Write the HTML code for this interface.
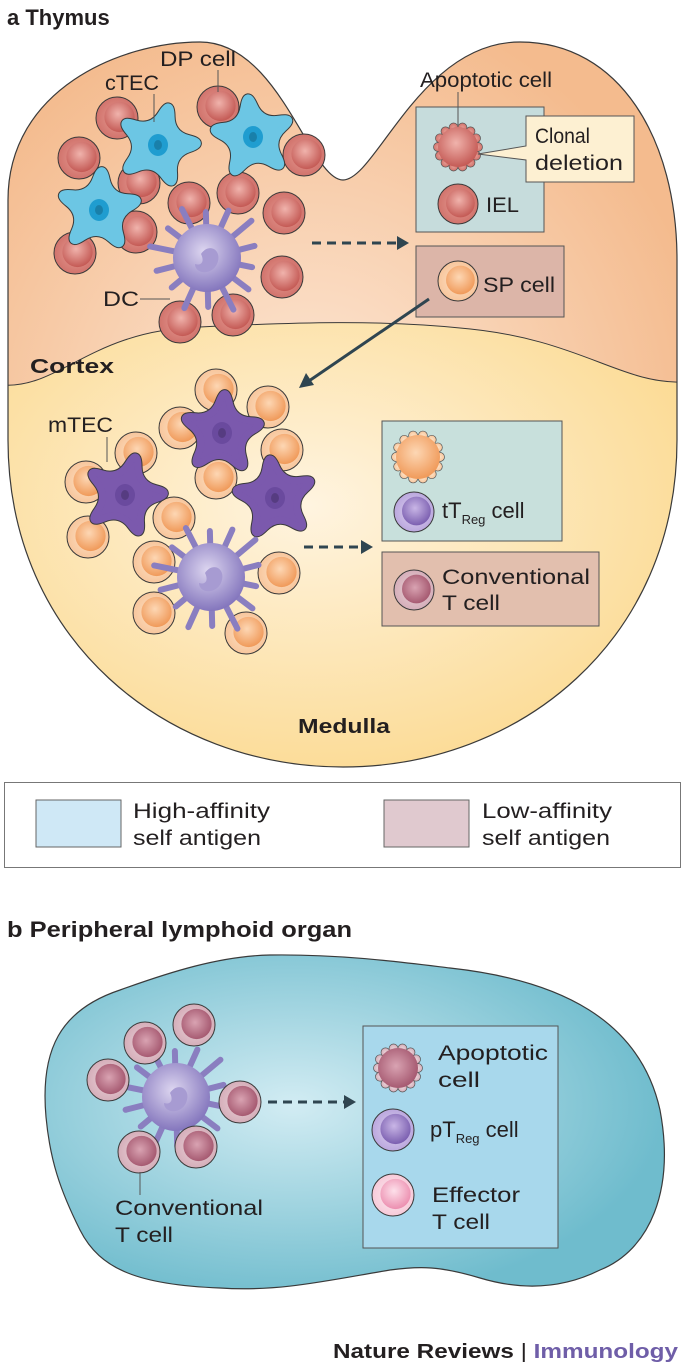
<!DOCTYPE html>
<html><head><meta charset="utf-8"><style>
html,body{margin:0;padding:0;background:#fff;}
svg{display:block;}
text{font-family:"Liberation Sans",sans-serif;fill:#231f20;}
</style></head><body>
<svg id="s" width="685" height="1370" viewBox="0 0 685 1370" xmlns="http://www.w3.org/2000/svg">
<defs>
<radialGradient id="gCortex" cx="0.45" cy="0.55" r="0.6"><stop offset="0" stop-color="#fde9d8"/><stop offset="1" stop-color="#f4bb8e"/></radialGradient>
<radialGradient id="gMed" cx="0.45" cy="0.4" r="0.65"><stop offset="0" stop-color="#fff4e0"/><stop offset="1" stop-color="#fbd98f"/></radialGradient>
<radialGradient id="gOrg" cx="0.4" cy="0.45" r="0.6"><stop offset="0" stop-color="#d2ecf3"/><stop offset="1" stop-color="#6fbccd"/></radialGradient>
<radialGradient id="gRed" cx="0.45" cy="0.4" r="0.6"><stop offset="0" stop-color="#f0b3ac"/><stop offset="1" stop-color="#c45a55"/></radialGradient>
<radialGradient id="gRedO" cx="0.5" cy="0.5" r="0.55"><stop offset="0" stop-color="#e59a92"/><stop offset="1" stop-color="#cf6f68"/></radialGradient>
<radialGradient id="gOr" cx="0.45" cy="0.4" r="0.6"><stop offset="0" stop-color="#fdd7b4"/><stop offset="1" stop-color="#f09a5a"/></radialGradient>
<radialGradient id="gOrO" cx="0.5" cy="0.5" r="0.55"><stop offset="0" stop-color="#fde2c6"/><stop offset="1" stop-color="#f7c398"/></radialGradient>
<radialGradient id="gPu" cx="0.45" cy="0.4" r="0.6"><stop offset="0" stop-color="#c9b6e6"/><stop offset="1" stop-color="#7b5fb0"/></radialGradient>
<radialGradient id="gPuO" cx="0.5" cy="0.5" r="0.55"><stop offset="0" stop-color="#ded3f0"/><stop offset="1" stop-color="#b7a3dc"/></radialGradient>
<radialGradient id="gMv" cx="0.45" cy="0.45" r="0.6"><stop offset="0" stop-color="#d9a3b2"/><stop offset="1" stop-color="#a2546c"/></radialGradient>
<radialGradient id="gMvO" cx="0.5" cy="0.5" r="0.55"><stop offset="0" stop-color="#ead3d9"/><stop offset="1" stop-color="#d3aab6"/></radialGradient>
<radialGradient id="gPk" cx="0.45" cy="0.4" r="0.6"><stop offset="0" stop-color="#fde0ea"/><stop offset="1" stop-color="#ec8fb0"/></radialGradient>
<radialGradient id="gPkO" cx="0.5" cy="0.5" r="0.55"><stop offset="0" stop-color="#fdeef3"/><stop offset="1" stop-color="#f6c6d6"/></radialGradient>
<radialGradient id="gDC" cx="0.45" cy="0.4" r="0.6"><stop offset="0" stop-color="#ddd6f0"/><stop offset="1" stop-color="#8476bd"/></radialGradient>
<clipPath id="thy"><path d="M8,200 C8,90 120,42 200,42 C280,42 310,180 343,180 C376,180 420,42 520,42 C620,42 677,140 677,260 L677,440 C677,640 520,767 343,767 C166,767 8,640 8,440 Z"/></clipPath>
</defs>

<text x="7" y="25" font-size="22" font-weight="bold">a  Thymus</text>

<g clip-path="url(#thy)">
<rect x="0" y="30" width="685" height="750" fill="url(#gCortex)"/>
<path d="M0,385 C60,390 90,330 200,327 C300,322 380,320 460,328 C580,338 620,385 685,382 L685,780 L0,780 Z" fill="url(#gMed)" stroke="#3a3a3a" stroke-width="1"/>
</g>
<path d="M8,200 C8,90 120,42 200,42 C280,42 310,180 343,180 C376,180 420,42 520,42 C620,42 677,140 677,260 L677,440 C677,640 520,767 343,767 C166,767 8,640 8,440 Z" fill="none" stroke="#3a3a3a" stroke-width="1.2"/>

<g id="cells"></g>

<rect x="416" y="107" width="128" height="125" fill="#c6dcdc" stroke="#555" stroke-width="1"/>
<rect x="416" y="246" width="148" height="71" fill="#dcb5a8" stroke="#555" stroke-width="1"/>
<rect x="382" y="421" width="180" height="120" fill="#c8e0dc" stroke="#555" stroke-width="1"/>
<rect x="382" y="552" width="217" height="74" fill="#e2bfae" stroke="#555" stroke-width="1"/>
<g id="cells2"></g>
<path d="M526,116 L634,116 L634,182 L526,182 L526,160 L478,154 L526,146 Z" fill="#fdf0d2" stroke="#555" stroke-width="1"/>
<line x1="458" y1="92" x2="458" y2="125" stroke="#555" stroke-width="1"/>

<text x="420" y="87" font-size="21" textLength="132" lengthAdjust="spacingAndGlyphs">Apoptotic cell</text>
<text x="535" y="143" font-size="21" textLength="55" lengthAdjust="spacingAndGlyphs">Clonal</text>
<text x="535" y="170" font-size="21" textLength="88" lengthAdjust="spacingAndGlyphs">deletion</text>
<text x="486" y="212" font-size="21" textLength="33" lengthAdjust="spacingAndGlyphs">IEL</text>
<text x="483" y="292" font-size="21" textLength="72" lengthAdjust="spacingAndGlyphs">SP cell</text>
<text x="105" y="90" font-size="21" textLength="54" lengthAdjust="spacingAndGlyphs">cTEC</text>
<text x="160" y="66" font-size="21" textLength="76" lengthAdjust="spacingAndGlyphs">DP cell</text>
<line x1="218" y1="70" x2="218" y2="92" stroke="#555"/>
<line x1="154" y1="94" x2="154" y2="122" stroke="#555"/>
<text x="103" y="306" font-size="21" textLength="36" lengthAdjust="spacingAndGlyphs">DC</text>
<line x1="140" y1="299" x2="170" y2="299" stroke="#555"/>
<text x="30" y="373" font-size="20" font-weight="bold" textLength="84" lengthAdjust="spacingAndGlyphs">Cortex</text>
<text x="48" y="432" font-size="21" textLength="65" lengthAdjust="spacingAndGlyphs">mTEC</text>
<line x1="107" y1="437" x2="107" y2="462" stroke="#555"/>
<text x="442" y="518" font-size="22">tT<tspan font-size="13" dy="6">Reg</tspan><tspan dy="-6"> cell</tspan></text>
<text x="442" y="584" font-size="21" textLength="148" lengthAdjust="spacingAndGlyphs">Conventional</text>
<text x="442" y="610" font-size="21" textLength="58" lengthAdjust="spacingAndGlyphs">T cell</text>
<text x="298" y="733" font-size="20" font-weight="bold" textLength="92" lengthAdjust="spacingAndGlyphs">Medulla</text>

<line x1="312" y1="243" x2="398" y2="243" stroke="#2f4550" stroke-width="3" stroke-dasharray="9,6"/>
<path d="M397,236 L409,243 L397,250 Z" fill="#2f4550"/>
<line x1="304" y1="547" x2="362" y2="547" stroke="#2f4550" stroke-width="3" stroke-dasharray="9,6"/>
<path d="M361,540 L373,547 L361,554 Z" fill="#2f4550"/>
<line x1="429" y1="299" x2="306" y2="383" stroke="#2f4550" stroke-width="3"/>
<path d="M299,388 L306,373 L314,385 Z" fill="#2f4550"/>

<rect x="4.5" y="782.5" width="676" height="85" fill="#fff" stroke="#777" stroke-width="1"/>
<rect x="36" y="800" width="85" height="47" fill="#cfe8f6" stroke="#666"/>
<rect x="384" y="800" width="85" height="47" fill="#e0c9cf" stroke="#666"/>
<text x="133" y="818" font-size="21" textLength="137" lengthAdjust="spacingAndGlyphs">High-affinity</text>
<text x="133" y="845" font-size="21" textLength="128" lengthAdjust="spacingAndGlyphs">self antigen</text>
<text x="482" y="818" font-size="21" textLength="130" lengthAdjust="spacingAndGlyphs">Low-affinity</text>
<text x="482" y="845" font-size="21" textLength="128" lengthAdjust="spacingAndGlyphs">self antigen</text>

<text x="7" y="937" font-size="22" font-weight="bold" textLength="345" lengthAdjust="spacingAndGlyphs">b  Peripheral lymphoid organ</text>
<path d="M46,1117 C40,1050 60,1010 120,990 C170,972 220,956 270,955 C340,954 400,962 450,968 C560,980 640,1020 660,1110 C675,1190 650,1250 600,1270 C560,1290 520,1290 480,1278 C440,1266 420,1266 390,1270 C330,1280 280,1292 220,1288 C140,1285 100,1270 80,1230 C60,1190 50,1160 46,1117 Z" fill="url(#gOrg)" stroke="#3a3a3a" stroke-width="1.2"/>
<rect x="363" y="1026" width="195" height="222" fill="#a8d8ec" stroke="#555"/>
<g id="cells3"></g>
<line x1="268" y1="1102" x2="345" y2="1102" stroke="#2f4550" stroke-width="3" stroke-dasharray="9,6"/>
<path d="M344,1095 L356,1102 L344,1109 Z" fill="#2f4550"/>
<text x="438" y="1060" font-size="21" textLength="110" lengthAdjust="spacingAndGlyphs">Apoptotic</text>
<text x="438" y="1087" font-size="21" textLength="42" lengthAdjust="spacingAndGlyphs">cell</text>
<text x="430" y="1137" font-size="22">pT<tspan font-size="13" dy="6">Reg</tspan><tspan dy="-6"> cell</tspan></text>
<text x="432" y="1202" font-size="21" textLength="88" lengthAdjust="spacingAndGlyphs">Effector</text>
<text x="432" y="1229" font-size="21" textLength="58" lengthAdjust="spacingAndGlyphs">T cell</text>
<text x="115" y="1215" font-size="21" textLength="148" lengthAdjust="spacingAndGlyphs">Conventional</text>
<text x="115" y="1242" font-size="21" textLength="58" lengthAdjust="spacingAndGlyphs">T cell</text>
<line x1="140" y1="1172" x2="140" y2="1195" stroke="#555"/>

<text x="678" y="1358" font-size="20" font-weight="bold" text-anchor="end" textLength="345" lengthAdjust="spacingAndGlyphs">Nature Reviews <tspan fill="#231f20" font-weight="normal">|</tspan> <tspan fill="#6f5ea8">Immunology</tspan></text>
</svg>
<script>
var NS="http://www.w3.org/2000/svg";
function el(p,t,a){var e=document.createElementNS(NS,t);for(var k in a)e.setAttribute(k,a[k]);p.appendChild(e);return e;}
function cell(g,x,y,r,o,i){el(g,"circle",{cx:x,cy:y,r:r,fill:"url(#"+o+")",stroke:"#3a3a3a","stroke-width":1});
 el(g,"circle",{cx:x+r*0.12,cy:y-r*0.05,r:r*0.72,fill:"url(#"+i+")",stroke:"none"});}
function star(g,x,y,R,r,col,nuc,rot){var pts=[];for(var k=0;k<10;k++){var a=rot+k*Math.PI/5;var rr=k%2?r:R;pts.push([x+rr*Math.cos(a),y+rr*Math.sin(a)]);}
 var d="M"+((pts[9][0]+pts[0][0])/2)+","+((pts[9][1]+pts[0][1])/2);
 for(var k=0;k<10;k++){var p=pts[k],q=pts[(k+1)%10];d+=" Q"+p[0]+","+p[1]+" "+((p[0]+q[0])/2)+","+((p[1]+q[1])/2);}
 d+="Z";
 el(g,"path",{d:d,fill:"none",stroke:"#3a3a3a","stroke-width":9,"stroke-linejoin":"round"});
 el(g,"path",{d:d,fill:col,stroke:col,"stroke-width":7,"stroke-linejoin":"round"});
 el(g,"ellipse",{cx:x,cy:y,rx:10,ry:11,fill:nuc,stroke:"none"});el(g,"ellipse",{cx:x,cy:y,rx:4,ry:5,fill:"rgba(0,0,0,0.18)"});}
function dc(g,x,y,R){var n=14;for(var k=0;k<n;k++){var a=k*2*Math.PI/n+0.2;var L=R+12+((k*7)%5)*3;
 el(g,"line",{x1:x,y1:y,x2:x+L*Math.cos(a),y2:y+L*Math.sin(a),stroke:"#8a7ec0","stroke-width":6,"stroke-linecap":"round"});}
 el(g,"circle",{cx:x,cy:y,r:R,fill:"url(#gDC)",stroke:"none"});
 el(g,"path",{d:"M"+(x-6)+","+(y-4)+" c8,-12 22,-4 16,10 c-6,12 -22,10 -22,0 c6,2 10,-2 6,-10z",fill:"#a79bd2"});}
function apo(g,x,y,r,o,i){for(var k=0;k<14;k++){var a=k*2*Math.PI/14;el(g,"circle",{cx:x+r*Math.cos(a),cy:y+r*Math.sin(a),r:4.5,fill:"url(#"+i+")",stroke:"#555","stroke-width":0.7});}
 el(g,"circle",{cx:x,cy:y,r:r,fill:"url(#"+o+")",stroke:"none"});}
var g=document.getElementById("cells");
var red=[[218,107],[117,118],[79,158],[139,183],[189,203],[238,193],[304,155],[284,213],[75,253],[136,232],[282,277],[180,322],[233,315]];
red.forEach(function(p){cell(g,p[0],p[1],21,"gRedO","gRed");});
star(g,158,145,48,17,"#6cc6e4","#1f9dd0",-1.3);
star(g,253,137,48,17,"#6cc6e4","#1f9dd0",-1.7);
star(g,99,210,48,17,"#6cc6e4","#1f9dd0",-1.5);
dc(g,207,258,34);
var org=[[216,390],[268,407],[180,428],[136,453],[282,450],[86,482],[216,478],[174,518],[88,537],[154,562],[279,573],[154,613],[246,633]];
org.forEach(function(p){cell(g,p[0],p[1],21,"gOrO","gOr");});
star(g,222,433,48,17,"#7b59ad","#6a4a9e",-1.5);
star(g,125,495,48,17,"#7b59ad","#6a4a9e",-1.3);
star(g,275,498,48,17,"#7b59ad","#6a4a9e",-1.7);
dc(g,211,577,34);
var g2=document.getElementById("cells2");
apo(g2,458,147,20,"gRed","gRedO");
cell(g2,458,204,20,"gRedO","gRed");
cell(g2,458,281,20,"gOrO","gOr");
apo(g2,418,457,22,"gOr","gOrO");
cell(g2,414,512,20,"gPuO","gPu");
cell(g2,414,590,20,"gMvO","gMv");
var g3=document.getElementById("cells3");
dc(g3,176,1097,34);
[[194,1025],[145,1043],[108,1080],[240,1102],[196,1147],[139,1152]].forEach(function(p){cell(g3,p[0],p[1],21,"gMvO","gMv");});
apo(g3,398,1068,20,"gMv","gMvO");
cell(g3,393,1130,21,"gPuO","gPu");
cell(g3,393,1195,21,"gPkO","gPk");
</script>
</body></html>
